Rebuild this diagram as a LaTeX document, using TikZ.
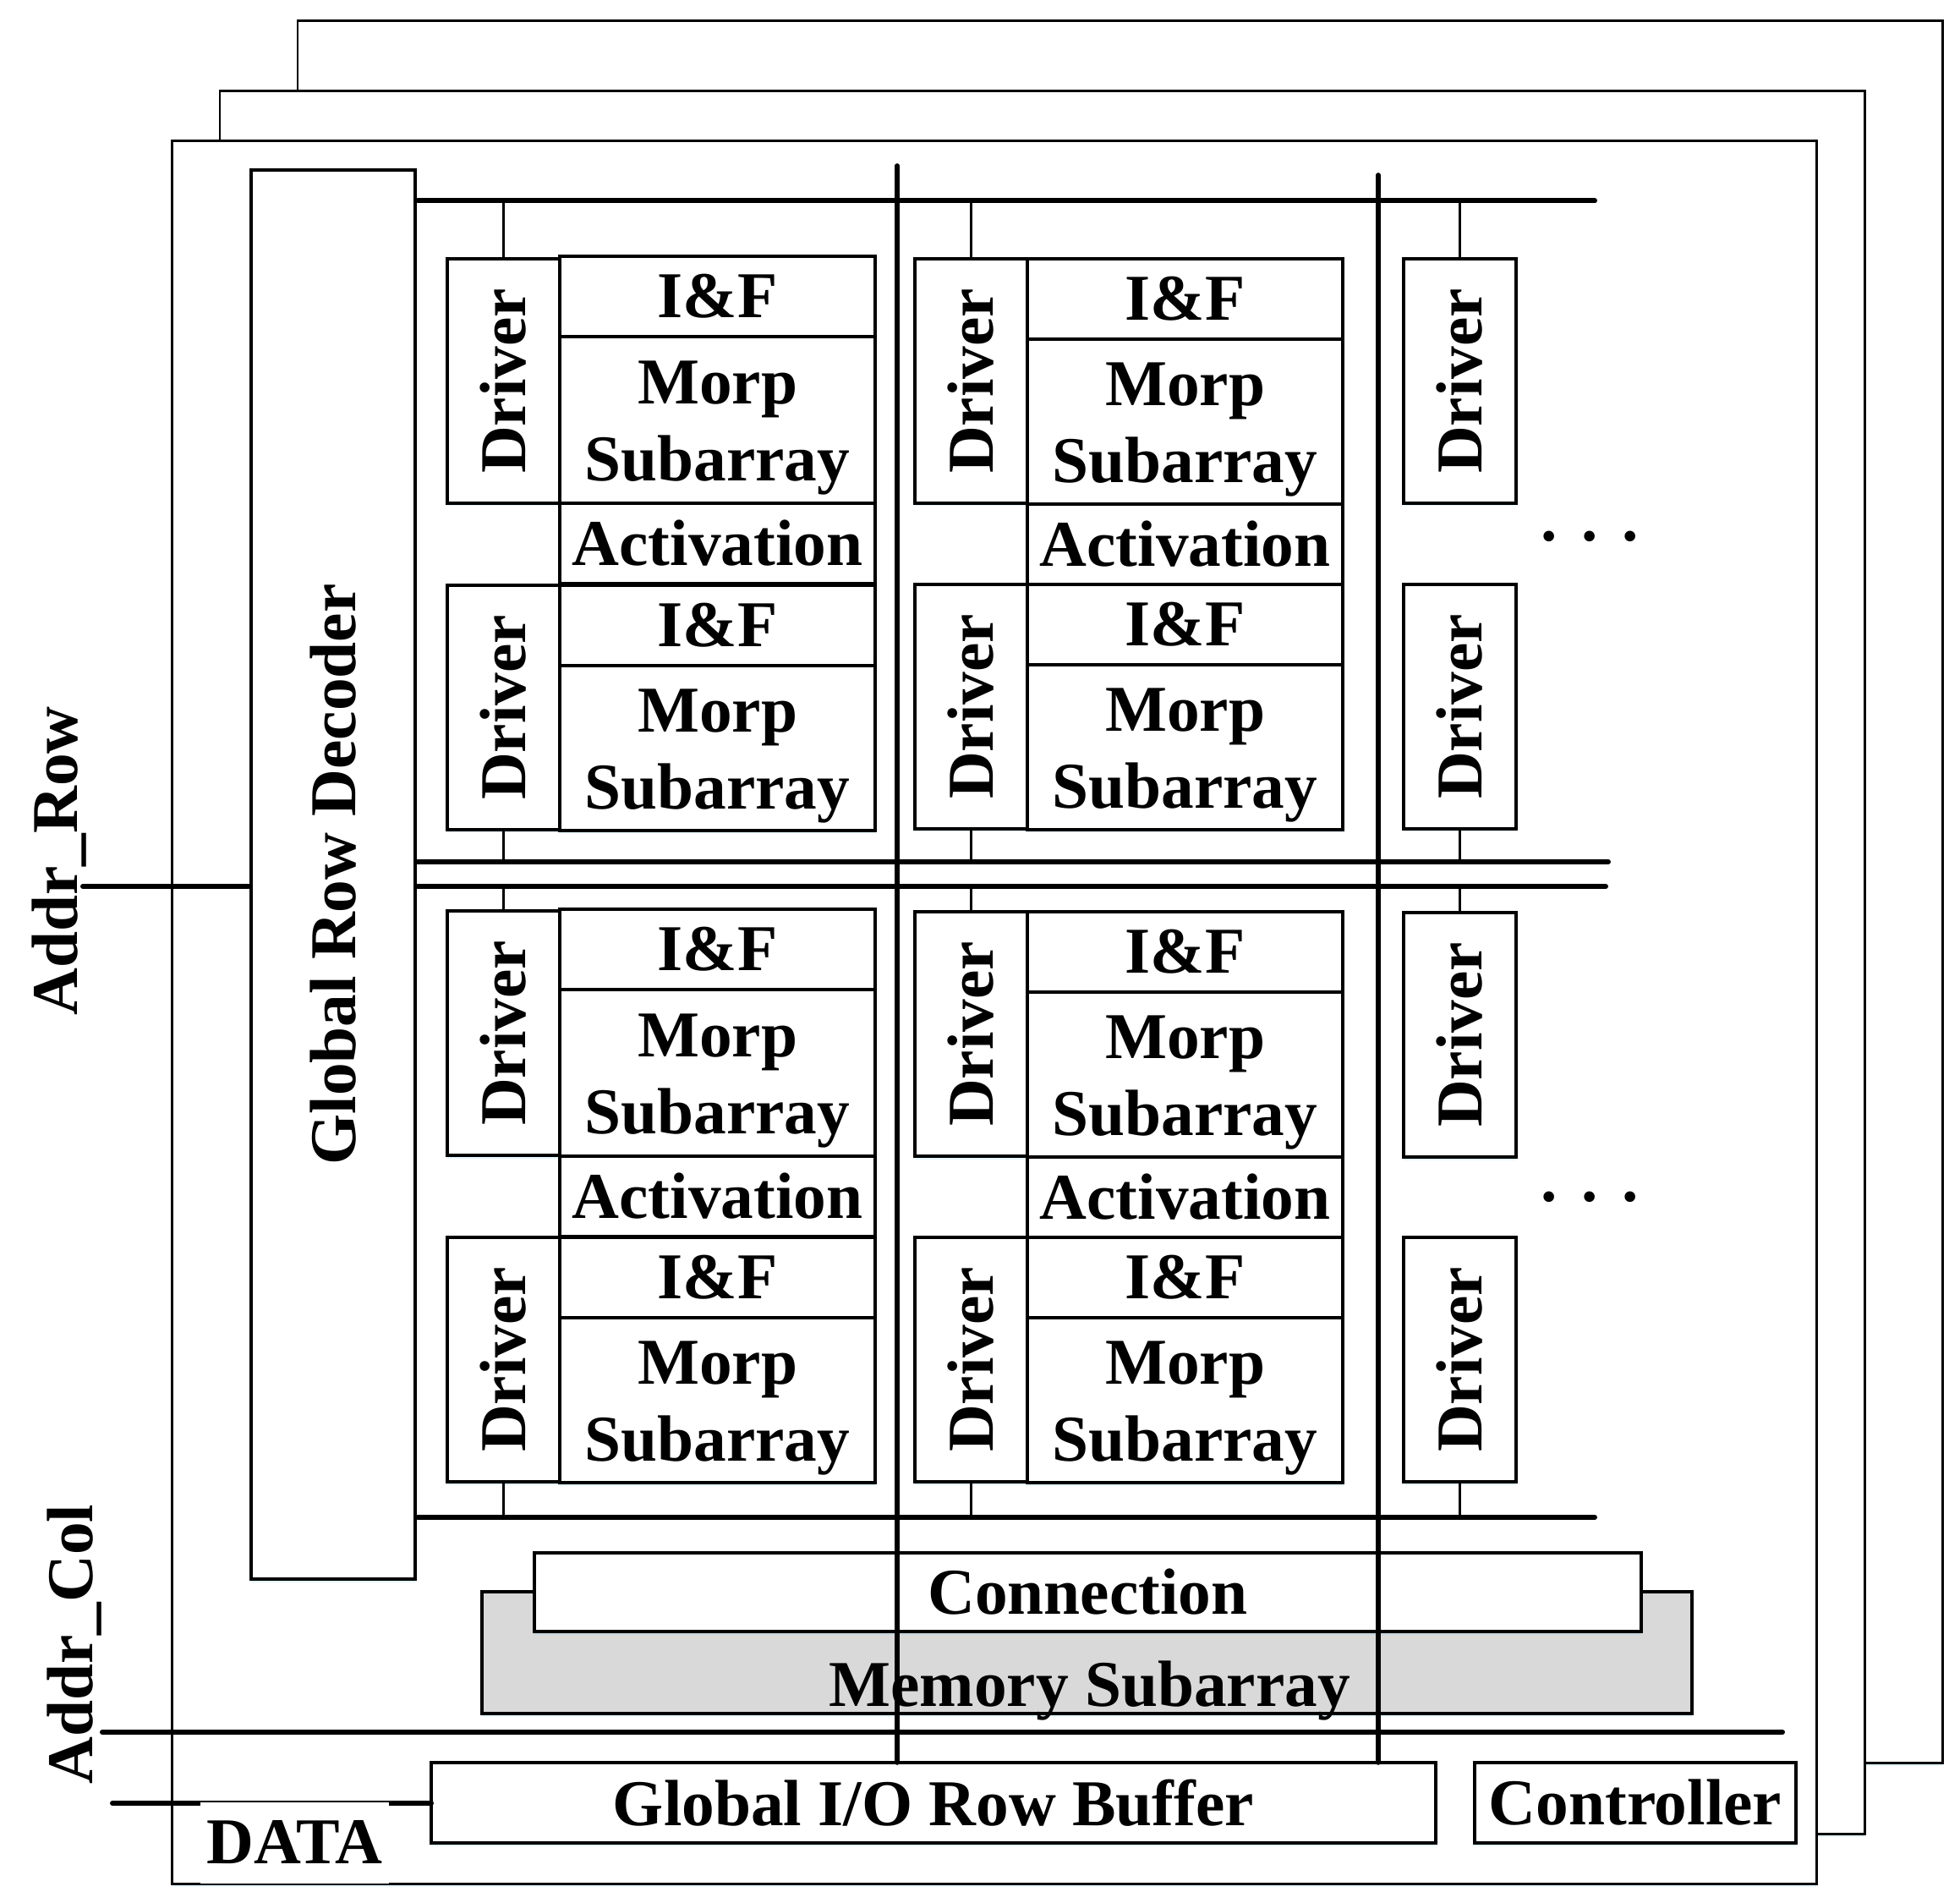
\documentclass[tikz,border=0pt]{standalone}
\usepackage{fontspec}
\setmainfont{Liberation Serif}
\usetikzlibrary{positioning,shadows}
\tikzstyle{soft} = [drop shadow={shadow xshift=0pt, shadow yshift=-0.035cm, fill=blue!30!cyan, opacity=0.10}]
\tikzstyle{frame} = [rectangle, anchor=north west, draw=black, fill=white, soft,
                      line width=0.85pt, inner sep=0pt, outer sep=0pt]
\tikzstyle{block} = [rectangle, draw=black, fill=white, soft,
                      line width=0.9pt, inner sep=0pt, outer sep=0pt]
\tikzstyle{driver} = [block, minimum width=1.33cm, minimum height=2.89cm]
\tikzstyle{ifbox} = [block, minimum width=3.73cm, minimum height=0.95cm]
\tikzstyle{morp} = [block, minimum width=3.73cm, minimum height=1.95cm,
                      text width=3.73cm, text centered,
                      execute at begin node={\rule{0pt}{20pt}}]
\tikzstyle{hbus} = [line width=1.7pt, line cap=round]
\tikzstyle{vbus} = [line width=1.6pt, line cap=round]
\tikzstyle{stub} = [line width=0.9pt]

\begin{document}
\begin{tikzpicture}[font=\fontsize{22}{26}\selectfont\bfseries]

  \useasboundingbox (0,0) rectangle (23.18,-22.5);

  \node (frame-c) [frame, minimum width=19.45cm, minimum height=20.59cm] at (3.52,-0.25) {};
  \node (frame-b) [frame, minimum width=19.45cm, minimum height=20.60cm] at (2.60,-1.08) {};
  \node (frame-a) [frame, minimum width=19.445cm, minimum height=20.605cm] at (2.035,-1.665) {};

  \node (decoder) [block, minimum width=1.94cm, minimum height=16.66cm] at (3.94,-10.34) {
    \rotatebox{90}{Global Row Decoder}
  };

  % first column
  \node (driver-a1) [driver] at (5.955,-4.505) {\rotatebox{90}{Driver}};
  \node (if-a1) [ifbox, anchor=north west, yshift=0.03cm] at (driver-a1.north east) {I\&F};
  \node (morp-a1) [morp, below=0cm of if-a1, minimum height=1.97cm] {Morp\\Subarray};
  \node (act-a1) [ifbox, below=0cm of morp-a1] {Activation};
  \node (if-a2) [ifbox, below=0cm of act-a1, yshift=-0.02cm] {I\&F};
  \node (morp-a2) [morp, below=0cm of if-a2] {Morp\\Subarray};
  \node (driver-a2) [driver, anchor=north east] at (if-a2.north west) {\rotatebox{90}{Driver}};

  \node (driver-a3) [driver, below=0.96cm of driver-a2] {\rotatebox{90}{Driver}};
  \node (if-a3) [ifbox, anchor=north west, yshift=0.02cm] at (driver-a3.north east) {I\&F};
  \node (morp-a3) [morp, below=0cm of if-a3, minimum height=1.97cm] {Morp\\Subarray};
  \node (act-a2) [ifbox, below=0cm of morp-a3] {Activation};
  \node (if-a4) [ifbox, below=0cm of act-a2, yshift=-0.01cm] {I\&F};
  \node (morp-a4) [morp, below=0cm of if-a4] {Morp\\Subarray};
  \node (driver-a4) [driver, anchor=north east] at (if-a4.north west) {\rotatebox{90}{Driver}};

  % second column
  \node (driver-b1) [driver, right=4.20cm of driver-a1] {\rotatebox{90}{Driver}};
  \node (if-b1) [ifbox, anchor=north west] at (driver-b1.north east) {I\&F};
  \node (morp-b1) [morp, below=0cm of if-b1] {Morp\\Subarray};
  \node (act-b1) [ifbox, below=0cm of morp-b1] {Activation};
  \node (if-b2) [ifbox, below=0cm of act-b1] {I\&F};
  \node (morp-b2) [morp, below=0cm of if-b2] {Morp\\Subarray};
  \node (driver-b2) [driver, anchor=north east] at (if-b2.north west) {\rotatebox{90}{Driver}};

  \node (driver-b3) [driver, below=0.98cm of driver-b2] {\rotatebox{90}{Driver}};
  \node (if-b3) [ifbox, anchor=north west] at (driver-b3.north east) {I\&F};
  \node (morp-b3) [morp, below=0cm of if-b3] {Morp\\Subarray};
  \node (act-b2) [ifbox, below=0cm of morp-b3] {Activation};
  \node (if-b4) [ifbox, below=0cm of act-b2] {I\&F};
  \node (morp-b4) [morp, below=0cm of if-b4] {Morp\\Subarray};
  \node (driver-b4) [driver, anchor=north east] at (if-b4.north west) {\rotatebox{90}{Driver}};

  % third column
  \node (driver-c1) [driver, right=4.45cm of driver-b1] {\rotatebox{90}{Driver}};
  \node (driver-c2) [driver, below=0.96cm of driver-c1] {\rotatebox{90}{Driver}};
  \node (driver-c3) [driver, below=0.99cm of driver-c2] {\rotatebox{90}{Driver}};
  \node (driver-c4) [driver, below=0.95cm of driver-c3] {\rotatebox{90}{Driver}};

  \node (dots-a) [anchor=base] at (18.80,-6.40) {.\hspace{8.2pt}.\hspace{8.2pt}.};
  \node (dots-b) [anchor=base] at (18.80,-14.20) {.\hspace{8.2pt}.\hspace{8.2pt}.};

  \node (memory) [block, fill=black!15, minimum width=14.31cm, minimum height=1.44cm,
                  label={[yshift=-0.45cm, xshift=0.03cm]center:Memory Subarray}] at (12.855,-19.54) {};
  \node (connection) [block, minimum width=13.09cm, minimum height=0.93cm] at (12.865,-18.825) {Connection};

  \node (buffer) [block, minimum width=11.88cm, minimum height=0.95cm] at (11.04,-21.315) {Global I/O Row Buffer};
  \node (controller) [block, minimum width=3.80cm, minimum height=0.95cm] at (19.34,-21.315) {Controller};

  \node (addr-row) [rotate=90, anchor=base] at (0.91,-10.18) {Addr\_Row};
  \node (addr-col) [rotate=90, anchor=base] at (1.09,-19.44) {Addr\_Col};

  \coordinate (bus-a) at (18.86,-2.375);
  \coordinate (bus-b) at (19.02,-10.19);
  \coordinate (bus-c) at (18.99,-10.48);
  \coordinate (bus-d) at (18.86,-17.94);
  \coordinate (col-start) at (1.21,-20.48);
  \coordinate (col-end) at (21.08,-20.48);
  \coordinate (row-start) at (0.98,-10.48);
  \coordinate (data-start) at (1.33,-21.32);
  \coordinate (vbus-a) at (10.61,-1.96);
  \coordinate (vbus-b) at (16.30,-2.07);

  \draw[hbus, shorten <=0.85pt] (decoder.east |- bus-a) -- (bus-a);
  \draw[hbus, shorten <=0.85pt] (decoder.east |- bus-b) -- (bus-b);
  \draw[hbus, shorten <=0.85pt] (decoder.east |- bus-c) -- (bus-c);
  \draw[hbus, shorten <=0.85pt] (decoder.east |- bus-d) -- (bus-d);
  \draw[hbus] (col-start) -- (col-end);
  \draw[hbus, shorten >=0.85pt] (row-start) -- (decoder.west |- row-start);
  \draw[hbus] (data-start) -- (buffer.west |- data-start);

  \draw[vbus] (vbus-a) -- (vbus-a |- buffer.north);
  \draw[vbus] (vbus-b) -- (vbus-b |- buffer.north);

  \draw[stub] (driver-a1.north) -- (driver-a1.north |- bus-a);
  \draw[stub] (driver-b1.north) -- (driver-b1.north |- bus-a);
  \draw[stub] (driver-c1.north) -- (driver-c1.north |- bus-a);
  \draw[stub] (driver-a2.south) -- (driver-a2.south |- bus-b);
  \draw[stub] (driver-b2.south) -- (driver-b2.south |- bus-b);
  \draw[stub] (driver-c2.south) -- (driver-c2.south |- bus-b);
  \draw[stub] (driver-a3.north) -- (driver-a3.north |- bus-c);
  \draw[stub] (driver-b3.north) -- (driver-b3.north |- bus-c);
  \draw[stub] (driver-c3.north) -- (driver-c3.north |- bus-c);
  \draw[stub] (driver-a4.south) -- (driver-a4.south |- bus-d);
  \draw[stub] (driver-b4.south) -- (driver-b4.south |- bus-d);
  \draw[stub] (driver-c4.south) -- (driver-c4.south |- bus-d);

  \node (data) [fill=white, inner sep=0pt, minimum width=2.23cm, minimum height=0.96cm] at (3.485,-21.785) {DATA};

\end{tikzpicture}
\end{document}
